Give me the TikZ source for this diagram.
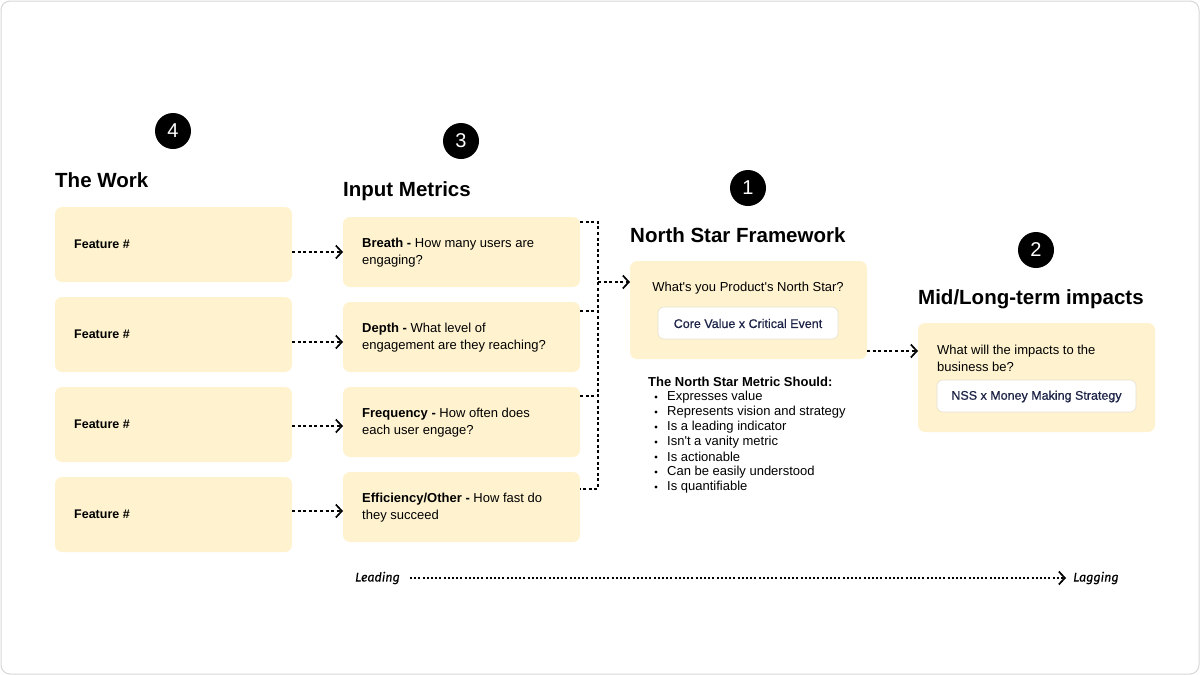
\documentclass[tikz,border=0pt]{standalone}
\usepackage{fontspec}
\setmainfont{Liberation Sans}
\newfontfamily\lagfont{Fira Sans}[FakeBold=0.5]
\newfontfamily\medfont{Liberation Sans}[FakeBold=0.6]
\usetikzlibrary{arrows.meta,positioning}
\definecolor{cream}{HTML}{FEF2CF}
\definecolor{navy}{HTML}{1C2346}
\definecolor{frame}{HTML}{D6D6D6}
\definecolor{innerline}{HTML}{E6E1D2}
\tikzset{
  card/.style={fill=cream, rounded corners=7pt, draw=none},
  whitebox/.style={fill=white, draw=innerline, line width=0.6pt, rounded corners=6pt},
  dashcon/.style={line width=1.6pt, dash pattern=on 3pt off 2.6pt},
  dasharrow/.style={dashcon, -{Straight Barb[length=6pt,width=13pt,line width=1.7pt]}},
  numcircle/.style={circle, fill=black, minimum size=36pt, inner sep=0pt, text=white, font=\fontsize{20}{20}\selectfont},
  heading/.style={anchor=base west, inner sep=0pt, font=\fontsize{20.5}{24}\selectfont\bfseries},
  bodytext/.style={anchor=west, inner sep=0pt, align=left, font=\fontsize{13}{17}\selectfont},
  lagtext/.style={inner sep=0pt, font=\fontsize{12.5}{14}\selectfont\lagfont\itshape},
  valtext/.style={inner sep=0pt, text=navy, font=\fontsize{12.5}{15}\selectfont\medfont}
}
\begin{document}
\begin{tikzpicture}[x=1pt,y=-1pt]
\useasboundingbox (0,0) rectangle (1200,675);
\draw[frame, line width=1pt, rounded corners=9pt] (1,1) rectangle (1199,674);

% number circles
\node[numcircle] (c4) at (173,131) {4};
\node[numcircle] (c3) at (461,141) {3};
\node[numcircle] (c1) at (748,188) {1};
\node[numcircle] (c2) at (1036,250) {2};

% headings
\node[heading] (hwork) at (55,187) {The Work};
\node[heading] (hinput) at (343,196) {Input Metrics};
\node[heading] (hns) at (630,242) {North Star Framework};
\node[heading] (hmid) at (918,304) {Mid/Long-term impacts};

% feature cards
\foreach \i/\yt in {1/207,2/297,3/387,4/477}{
  \path[card] (55,\yt) rectangle (292,\yt+75);
  \node[bodytext, font=\fontsize{12.5}{17}\selectfont\bfseries] (f\i) at (74,\yt+37.5) {Feature \#};
}

% metric cards
\path[card] (343,217) rectangle (580,287);
\path[card] (343,302) rectangle (580,372);
\path[card] (343,387) rectangle (580,457);
\path[card] (343,472) rectangle (580,542);
\node[bodytext] (m1) at (362,253) {\textbf{Breath -} How many users are\\engaging?};
\node[bodytext] (m2) at (362,338) {\textbf{Depth -} What level of\\engagement are they reaching?};
\node[bodytext] (m3) at (362,423) {\textbf{Frequency -} How often does\\each user engage?};
\node[bodytext] (m4) at (362,508) {\textbf{Efficiency/Other -} How fast do\\they succeed};
\coordinate (fe1) at (292,252);
\coordinate (fe2) at (292,342);
\coordinate (fe3) at (292,426);
\coordinate (fe4) at (292,511);
\coordinate (mw1) at (343,252);
\coordinate (mw2) at (343,342);
\coordinate (mw3) at (343,426);
\coordinate (mw4) at (343,511);

% feature -> metric arrows
\draw[dasharrow] (fe1) -- (mw1);
\draw[dasharrow] (fe2) -- (mw2);
\draw[dasharrow] (fe3) -- (mw3);
\draw[dasharrow] (fe4) -- (mw4);

% bracket
\coordinate (b1) at (580,222);
\coordinate (b2) at (580,311);
\coordinate (b3) at (580,396);
\coordinate (b4) at (580,489);
\coordinate (bx1) at (598,222);
\coordinate (bx2) at (598,311);
\coordinate (bx3) at (598,396);
\coordinate (bx4) at (598,489);
\coordinate (bmid) at (598,282);
\draw[dashcon] (b1) -- (bx1) -- (bx4) -- (b4);
\draw[dashcon] (b2) -- (bx2);
\draw[dashcon] (b3) -- (bx3);

% north star card
\path[card] (630,261) rectangle (867,359);
\coordinate (nsw) at (630,282);
\draw[dasharrow] (bmid) -- (nsw);
\node[inner sep=0pt, font=\fontsize{13}{15}\selectfont] (nsq) at (748,288) {What\textquotesingle s you Product\textquotesingle s North Star?};
\draw[whitebox] (658,307) rectangle (838,339);
\node[valtext] (nsv) at (748,323.5) {Core Value x Critical Event};

% list
\node[anchor=west, inner sep=0pt, font=\fontsize{13}{15}\selectfont\bfseries] (lt) at (648,382) {The North Star Metric Should:};
\foreach \t [count=\k] in {Expresses value,Represents vision and strategy,Is a leading indicator,Isn\textquotesingle t a vanity metric,Is actionable,Can be easily understood,Is quantifiable}{
  \fill (656,382+\k*15) circle (1.6pt);
  \node[anchor=west, inner sep=0pt, font=\fontsize{13}{15}\selectfont] (li\k) at (667,382+\k*15) {\t};
}

% mid/long card
\path[card] (918,323) rectangle (1155,432);
\coordinate (nse) at (867,351);
\coordinate (midw) at (918,351);
\draw[dasharrow] (nse) -- (midw);
\node[bodytext] (mq) at (937,358) {What will the impacts to the\\business be?};
\draw[whitebox] (937,380) rectangle (1136,412);
\node[valtext] (mv) at (1036.5,396.5) {NSS x Money Making Strategy};

% leading / lagging
\node[lagtext, anchor=east] (lead) at (400,578) {Leading};
\node[lagtext, anchor=west] (lag) at (1073,578) {Lagging};
\coordinate (ls) at (410,578);
\coordinate (le) at (1066,578);
\draw[dasharrow, line width=1.3pt, dash pattern=on 2pt off 2.2pt] (ls) -- (le);
\end{tikzpicture}
\end{document}
